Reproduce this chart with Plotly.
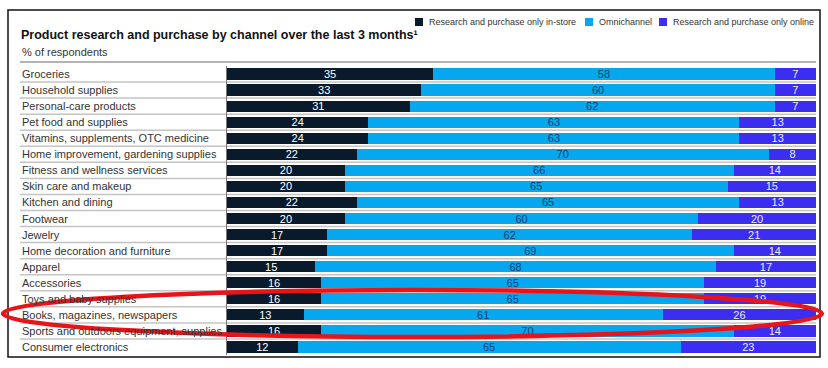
import plotly.graph_objects as go

categories = [
    "Groceries", "Household supplies", "Personal-care products", "Pet food and supplies",
    "Vitamins, supplements, OTC medicine", "Home improvement, gardening supplies",
    "Fitness and wellness services", "Skin care and makeup", "Kitchen and dining",
    "Footwear", "Jewelry", "Home decoration and furniture", "Apparel", "Accessories",
    "Toys and baby supplies", "Books, magazines, newspapers",
    "Sports and outdoors equipment, supplies", "Consumer electronics",
]
in_store = [35, 33, 31, 24, 24, 22, 20, 20, 22, 20, 17, 17, 15, 16, 16, 13, 16, 12]
omnichannel = [58, 60, 62, 63, 63, 70, 66, 65, 65, 60, 62, 69, 68, 65, 65, 61, 70, 65]
online = [7, 7, 7, 13, 13, 8, 14, 15, 13, 20, 21, 14, 17, 19, 19, 26, 14, 23]
series_names = ["Research and purchase only in-store", "Omnichannel",
                "Research and purchase only online"]

W, H = 828, 368
L, R, T, B = 227, 12, 66, 13
PW, PH = W - L - R, H - T - B
def px(x):
    return (x - L) / PW
def py(y):
    return (H - B - y) / PH

colors = ["#081a2b", "#05a7ef", "#3b2ef0"]
text_colors = ["#ffffff", "#0b3f70", "#e8ecff"]
font = "Liberation Sans, Arial, sans-serif"

fig = go.Figure()
for name, vals, c, tc in zip(series_names, [in_store, omnichannel, online], colors, text_colors):
    fig.add_trace(go.Bar(
        y=categories, x=vals, name=name, orientation="h",
        marker=dict(color=c, line=dict(width=0)),
        text=vals, texttemplate="%{text}", textposition="inside", textangle=0,
        insidetextanchor="middle", constraintext="none",
        textfont=dict(color=tc, size=11, family=font),
        hoverinfo="x+y",
    ))

shapes = []
n = len(categories)
for k in range(n - 1):
    shapes.append(dict(type="line", xref="paper", yref="y", x0=px(20), x1=1.0,
                       y0=k + 0.5, y1=k + 0.5, line=dict(color="#c4c4c4", width=1.5), layer="below"))
shapes.append(dict(type="line", xref="paper", yref="paper", x0=px(20), x1=1.0,
                   y0=py(62), y1=py(62), line=dict(color="#9a9a9a", width=1.5)))
shapes.append(dict(type="rect", xref="paper", yref="paper", x0=px(8), x1=px(820),
                   y0=py(357), y1=py(10), line=dict(color="#111111", width=1.5)))
shapes.append(dict(type="circle", xref="paper", yref="paper", x0=px(3), x1=px(822),
                   y0=py(337), y1=py(290), line=dict(color="#e8141a", width=4.5)))

annotations = []
legend_swatch_x = [415, 585, 659]
for name, c, sx in zip(series_names, colors, legend_swatch_x):
    shapes.append(dict(type="rect", xref="paper", yref="paper", x0=px(sx), x1=px(sx + 8),
                       y0=py(26), y1=py(18), fillcolor=c, line=dict(width=0)))
    annotations.append(dict(text=name, xref="paper", yref="paper", x=px(sx + 12), y=py(22),
                            xanchor="left", yanchor="middle", showarrow=False,
                            font=dict(size=9, color="#333333", family=font)))

for c in categories:
    annotations.append(dict(text=c, xref="paper", yref="y", x=px(20), y=c,
                            xanchor="left", yanchor="middle", showarrow=False,
                            font=dict(size=11, color="#333333", family=font)))
annotations.append(dict(text="<b>Product research and purchase by channel over the last 3 months¹</b>",
                        xref="paper", yref="paper", x=px(19), y=py(35), xanchor="left",
                        yanchor="middle", showarrow=False,
                        font=dict(size=12.5, color="#111111", family=font)))
annotations.append(dict(text="% of respondents", xref="paper", yref="paper", x=px(20), y=py(52),
                        xanchor="left", yanchor="middle", showarrow=False,
                        font=dict(size=11, color="#333333", family=font)))

fig.update_layout(
    width=W, height=H, margin=dict(l=L, r=R, t=T, b=B),
    paper_bgcolor="white", plot_bgcolor="white",
    barmode="stack", bargap=0.3,
    showlegend=False,
    xaxis=dict(range=[0, 100], visible=False, fixedrange=True),
    yaxis=dict(autorange="reversed", showticklabels=False, showgrid=False,
               showline=True, linecolor="#777777", linewidth=1, zeroline=False, ticks=""),
    shapes=shapes, annotations=annotations,
)
fig.write_html("out.html", config={"displayModeBar": False},
               post_script="document.body.style.margin='0';document.body.style.padding='0';")
